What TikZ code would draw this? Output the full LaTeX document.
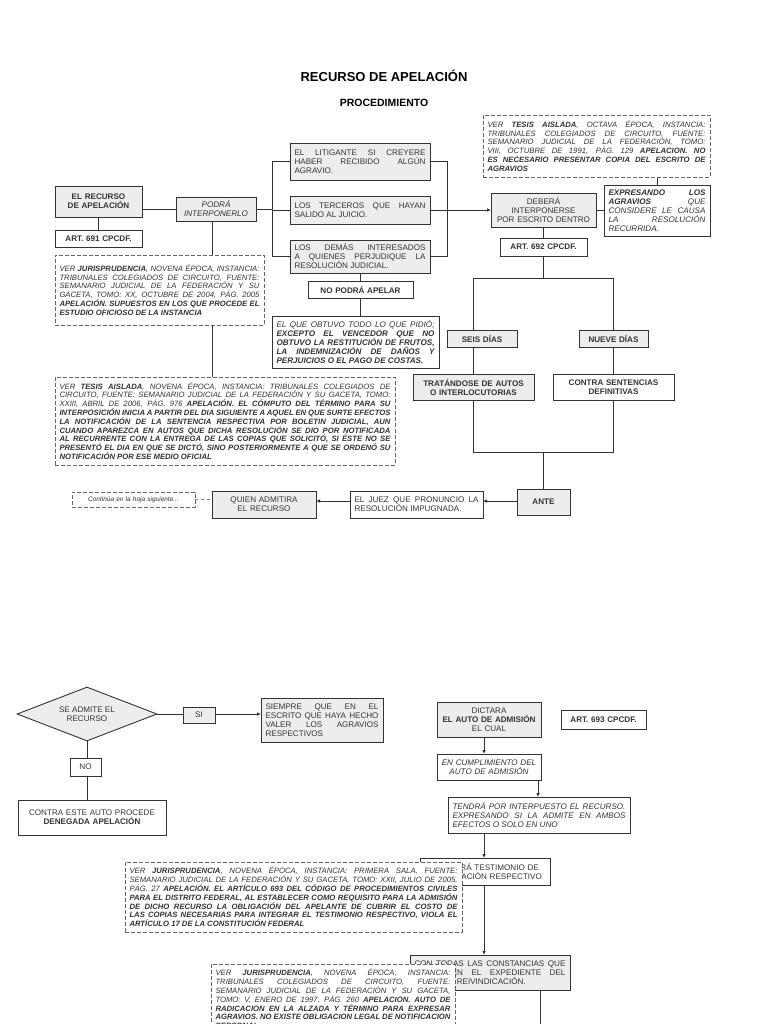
\documentclass[tikz,border=0pt]{standalone}
\usepackage{fontspec}
\setmainfont{Liberation Sans}
\usetikzlibrary{shapes.geometric,arrows.meta}
\definecolor{bfill}{HTML}{EDEDED}
\definecolor{bline}{HTML}{333333}
\newcommand\bx[7]{%
 \pgfmathsetmacro\bw{#5-#3}\pgfmathsetmacro\bh{#6-#4}%
 \pgfmathsetmacro\tw{#5-#3-9}%
 \node[#1,minimum width=\bw pt,minimum height=\bh pt,text width=\tw pt] (#2) at ({(#3+#5)/2},{(#4+#6)/2}) {#7};}
\newcommand\fn{\fontsize{8.1}{9}\selectfont}
\newcommand\fd{\fontsize{7.7}{8.8}\selectfont}
\begin{document}
\begin{tikzpicture}[x=1pt,y=-1pt,
 every node/.append style={execute at begin node={\hyphenpenalty=10000\exhyphenpenalty=10000\emergencystretch=20pt}},
 base/.style={draw=bline,line width=0.9pt,inner sep=0pt,font=\fn,text=black!80},
 gbox/.style={base,fill=bfill},
 wbox/.style={base,fill=white},
 dbox/.style={base,fill=white,dashed,draw=black!60,dash pattern=on 4pt off 2pt},
 ln/.style={draw=bline,line width=0.9pt},
 ar/.style={ln,-{Latex[length=4pt,width=3.5pt]}},
 c/.style={align=center},
 j/.style={align=justify}]
\useasboundingbox (0,0) rectangle (768,1024);
\clip (0,0) rectangle (768,1024);
\fill[white] (0,0) rectangle (768,1024);
\node[font=\bfseries\fontsize{13}{15}\selectfont] (title) at (384,76) {RECURSO DE APELACIÓN};
\node[font=\bfseries\fontsize{10.5}{12}\selectfont] (sub) at (384,103) {PROCEDIMIENTO};
\draw[ln] (176,209) -- (142,209);
\draw[ln] (98,217) -- (98,230);
\draw[ln] (256,209) -- (272,209);
\draw[ln] (290,161) -- (272,161) -- (272,256) -- (290,256);
\draw[ln] (272,210) -- (290,210);
\draw[ln] (430,161) -- (447,161) -- (447,256) -- (430,256);
\draw[ar] (430,210) -- (491,210);
\draw[ln] (212,221) -- (212,377);
\draw[ln] (360,273) -- (360,316);
\draw[ln] (596,210) -- (604,210);
\draw[ln] (657,177) -- (657,185);
\draw[ln] (543,227) -- (543,238);
\draw[ln] (543,256) -- (543,278);
\draw[ln] (473,330) -- (473,278) -- (613,278) -- (613,330);
\draw[ln] (473,347) -- (473,374);
\draw[ln] (613,347) -- (613,374);
\draw[ln] (473,400) -- (473,452) -- (613,452) -- (613,400);
\draw[ln] (543,452) -- (543,489);
\draw[ar] (517,501) -- (483,501);
\draw[ar] (350,501) -- (316,501);
\draw[dashed,draw=black!50] (195,499) -- (212,499);
\bx{gbox,c,font=\bfseries\fn}{recurso}{55}{186}{142}{217}{EL RECURSO DE APELACIÓN}
\bx{wbox,c,font=\bfseries\fn}{art691}{55}{230}{142}{247}{ART. 691 CPCDF.}
\bx{gbox,c,font=\itshape\fn}{podra}{176}{197}{256}{221}{PODRÁ INTERPONERLO}
\bx{dbox,j,font=\itshape\fd}{jur1}{55}{255}{264}{325}{VER \textbf{JURISPRUDENCIA}, NOVENA ÉPOCA, INSTANCIA: TRIBUNALES COLEGIADOS DE CIRCUITO, FUENTE: SEMANARIO JUDICIAL DE LA FEDERACIÓN Y SU GACETA, TOMO: XX, OCTUBRE DE 2004, PÁG. 2005 \textbf{APELACIÓN. SUPUESTOS EN LOS QUE PROCEDE EL ESTUDIO OFICIOSO DE LA INSTANCIA}}
\draw[ln] (212,325) -- (212,377);
\bx{gbox,j}{litig}{290}{143}{430}{180}{EL LITIGANTE SI CREYERE HABER RECIBIDO ALGÚN AGRAVIO.}
\bx{gbox,j}{terc}{290}{196}{430}{224}{LOS TERCEROS QUE HAYAN SALIDO AL JUICIO.}
\bx{gbox,j}{demas}{290}{240}{430}{273}{LOS DEMÁS INTERESADOS A QUIENES PERJUDIQUE LA RESOLUCIÓN JUDICIAL.}
\bx{wbox,c,font=\bfseries\fn}{nopodra}{308}{281}{413}{298}{NO PODRÁ APELAR}
\bx{wbox,j,font=\itshape\fn}{obtuvo}{272}{316}{439}{368}{EL QUE OBTUVO TODO LO QUE PIDIÓ; \textbf{EXCEPTO EL VENCEDOR QUE NO OBTUVO LA RESTITUCIÓN DE FRUTOS, LA INDEMNIZACIÓN DE DAÑOS Y PERJUICIOS O EL PAGO DE COSTAS.}}
\bx{dbox,j,font=\itshape\fd}{tes1}{55}{377}{395}{465}{VER \textbf{TESIS AISLADA}, NOVENA ÉPOCA, INSTANCIA: TRIBUNALES COLEGIADOS DE CIRCUITO, FUENTE: SEMANARIO JUDICIAL DE LA FEDERACIÓN Y SU GACETA, TOMO: XXIII, ABRIL DE 2006, PÁG. 976 \textbf{APELACIÓN. EL CÓMPUTO DEL TÉRMINO PARA SU INTERPOSICIÓN INICIA A PARTIR DEL DIA SIGUIENTE A AQUEL EN QUE SURTE EFECTOS LA NOTIFICACIÓN DE LA SENTENCIA RESPECTIVA POR BOLETIN JUDICIAL, AUN CUANDO APAREZCA EN AUTOS QUE DICHA RESOLUCIÓN SE DIO POR NOTIFICADA AL RECURRENTE CON LA ENTREGA DE LAS COPIAS QUE SOLICITÓ, SI ÉSTE NO SE PRESENTÓ EL DIA EN QUE SE DICTÓ, SINO POSTERIORMENTE A QUE SE ORDENÓ SU NOTIFICACIÓN POR ESE MEDIO OFICIAL}}
\bx{dbox,j,font=\itshape\fd}{tes2}{483}{115}{710}{177}{VER \textbf{TESIS AISLADA}, OCTAVA ÉPOCA, INSTANCIA: TRIBUNALES COLEGIADOS DE CIRCUITO, FUENTE: SEMANARIO JUDICIAL DE LA FEDERACIÓN, TOMO: VIII, OCTUBRE DE 1991, PÁG. 129 \textbf{APELACION. NO ES NECESARIO PRESENTAR COPIA DEL ESCRITO DE AGRAVIOS}}
\bx{gbox,c}{debera}{491}{193}{596}{227}{DEBERÁ INTERPONERSE POR ESCRITO DENTRO}
\bx{wbox,j,font=\itshape\fn}{expr}{604}{185}{710}{236}{\textbf{EXPRESANDO LOS AGRAVIOS} QUE CONSIDERE LE CAUSA LA RESOLUCIÓN RECURRIDA.}
\bx{wbox,c,font=\bfseries\fn}{art692}{500}{238}{587}{256}{ART. 692 CPCDF.}
\bx{gbox,c,font=\bfseries\fn}{seis}{447}{330}{517}{347}{SEIS DÍAS}
\bx{gbox,c,font=\bfseries\fn}{nueve}{579}{330}{648}{347}{NUEVE DÍAS}
\bx{gbox,c,font=\bfseries\fn}{trat}{413}{374}{534}{400}{TRATÁNDOSE DE AUTOS O INTERLOCUTORIAS}
\bx{wbox,c,font=\bfseries\fn}{contra}{553}{374}{674}{400}{CONTRA SENTENCIAS DEFINITIVAS}
\bx{gbox,c,font=\bfseries\fn}{ante}{517}{489}{570}{515}{ANTE}
\bx{wbox,j}{juez}{350}{491}{483}{518}{EL JUEZ QUE PRONUNCIO LA RESOLUCIÓN IMPUGNADA.}
\bx{gbox,c}{quien}{212}{491}{316}{518}{QUIEN ADMITIRA EL RECURSO}
\bx{dbox,c,font=\itshape\fontsize{6.5}{7.5}\selectfont}{cont}{72}{492}{195}{507}{Continúa en la hoja siguiente...}
\draw[ln] (157,714) -- (183,714);
\draw[ar] (215,714) -- (261,714);
\draw[ln] (87,741) -- (87,758);
\draw[ln] (87,776) -- (87,800);
\draw[ar] (484,737) -- (484,754);
\draw[ar] (538,780) -- (538,797);
\draw[ar] (484,833) -- (484,858);
\draw[ar] (484,885) -- (484,955);
\draw[ln] (540,990) -- (540,1030);
\node[base,fill=bfill,diamond,aspect=2.6,minimum width=140pt,minimum height=54pt,align=center] (diam) at (87,714) {SE ADMITE EL\\RECURSO};
\bx{gbox,c}{si}{183}{707}{215}{723}{SI}
\bx{gbox,j}{siempre}{261}{698}{383}{742}{SIEMPRE QUE EN EL ESCRITO QUE HAYA HECHO VALER LOS AGRAVIOS RESPECTIVOS}
\bx{wbox,c}{no}{70}{758}{101}{776}{NO}
\bx{wbox,c}{contraauto}{18}{800}{166}{835}{CONTRA ESTE AUTO PROCEDE\\\textbf{DENEGADA APELACIÓN}}
\bx{gbox,c}{dictara}{437}{702}{541}{737}{DICTARA\\\textbf{EL AUTO DE ADMISIÓN}\\EL CUAL}
\bx{wbox,c,font=\bfseries\fn}{art693}{561}{710}{646}{729}{ART. 693 CPCDF.}
\bx{wbox,c,font=\itshape\fn}{cumpl}{437}{754}{541}{780}{EN CUMPLIMIENTO DEL AUTO DE ADMISIÓN}
\bx{wbox,j,font=\itshape\fn}{tendra}{448}{797}{630}{833}{TENDRÁ POR INTERPUESTO EL RECURSO. EXPRESANDO SI LA ADMITE EN AMBOS EFECTOS O SOLO EN UNO}
\bx{wbox,c}{formara}{420}{858}{550}{885}{FORMARÁ TESTIMONIO DE\\LA APELACIÓN RESPECTIVO}
\bx{dbox,j,font=\itshape\fd}{jur2}{125}{862}{462}{932}{VER \textbf{JURISPRUDENCIA}, NOVENA ÉPOCA, INSTANCIA: PRIMERA SALA, FUENTE: SEMANARIO JUDICIAL DE LA FEDERACIÓN Y SU GACETA, TOMO: XXII, JULIO DE 2005, PÁG. 27 \textbf{APELACIÓN. EL ARTÍCULO 693 DEL CÓDIGO DE PROCEDIMIENTOS CIVILES PARA EL DISTRITO FEDERAL, AL ESTABLECER COMO REQUISITO PARA LA ADMISIÓN DE DICHO RECURSO LA OBLIGACIÓN DEL APELANTE DE CUBRIR EL COSTO DE LAS COPIAS NECESARIAS PARA INTEGRAR EL TESTIMONIO RESPECTIVO, VIOLA EL ARTÍCULO 17 DE LA CONSTITUCIÓN FEDERAL}}
\bx{gbox,j}{contodas}{410}{955}{570}{990}{CON TODAS LAS CONSTANCIAS QUE OBREN EN EL EXPEDIENTE DEL JUICIO DE REIVINDICACIÓN.}
\bx{dbox,j,font=\itshape\fd}{jur3}{211}{964}{455}{1034}{VER \textbf{JURISPRUDENCIA}, NOVENA ÉPOCA, INSTANCIA: TRIBUNALES COLEGIADOS DE CIRCUITO, FUENTE: SEMANARIO JUDICIAL DE LA FEDERACIÓN Y SU GACETA, TOMO: V, ENERO DE 1997, PÁG. 260 \textbf{APELACION. AUTO DE RADICACION EN LA ALZADA Y TÉRMINO PARA EXPRESAR AGRAVIOS. NO EXISTE OBLIGACION LEGAL DE NOTIFICACION PERSONAL.}}
\end{tikzpicture}
\end{document}
